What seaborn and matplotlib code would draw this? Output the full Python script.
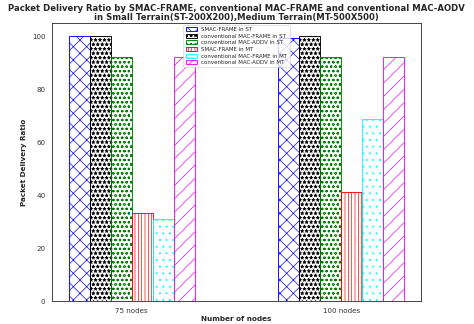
import matplotlib
matplotlib.use("Agg")
import matplotlib.pyplot as plt
import seaborn as sns
import pandas as pd

categories = ["75 nodes", "100 nodes"]
series_names = [
    "SMAC-FRAME in ST",
    "conventional MAC-FRAME in ST",
    "conventional MAC-AODV in ST",
    "SMAC-FRAME in MT",
    "conventional MAC-FRAME in MT",
    "conventional MAC-AODV in MT",
]
smac_frame_st = [100.0, 99.4]
conv_mac_frame_st = [100.0, 100.0]
conv_mac_aodv_st = [92.3, 92.3]
smac_frame_mt = [33.4, 41.1]
conv_mac_frame_mt = [30.9, 68.7]
conv_mac_aodv_mt = [92.3, 92.3]
yticks = [0, 20, 40, 60, 80, 100]

values = [smac_frame_st, conv_mac_frame_st, conv_mac_aodv_st,
          smac_frame_mt, conv_mac_frame_mt, conv_mac_aodv_mt]
colors = ["blue", "black", "green", "red", "cyan", "magenta"]
hatches = ["xx", "***", "ooo", "||||", "..", "//"]

rows = []
for name, vals in zip(series_names, values):
    for cat, v in zip(categories, vals):
        rows.append({"nodes": cat, "series": name, "pdr": v})
df = pd.DataFrame(rows)

sns.set_style("white")
plt.rcParams["hatch.linewidth"] = 0.6

fig = plt.figure(figsize=(474 / 80, 324 / 80), dpi=80)
ax = fig.add_axes([52 / 474, 1 - 301 / 324, (421 - 52) / 474, (301 - 23) / 324])

sns.barplot(data=df, x="nodes", y="pdr", hue="series", order=categories,
            hue_order=series_names, palette=colors, width=0.6,
            errorbar=None, legend=False, ax=ax)

handles = []
for cont, col, h in zip(ax.containers, colors, hatches):
    for p in cont.patches:
        p.set_facecolor("none")
        p.set_edgecolor(col)
        p.set_hatch(h)
        p.set_linewidth(0.8)
    handles.append(cont.patches[0])

ax.set_xlim(-0.38, 1.38)
ax.set_ylim(0, 105)
ax.set_yticks(yticks)
ax.tick_params(axis="both", labelsize=6.4, length=2.5, width=0.6, pad=3.5,
               colors="#333333")
for s in ax.spines.values():
    s.set_visible(True)
    s.set_color("#333333")
    s.set_linewidth(0.8)

ax.set_xlabel("Number of nodes", fontsize=6.5, fontweight="bold", labelpad=2.5)
ax.set_ylabel("Packet Delivery Ratio", fontsize=6.5, fontweight="bold", labelpad=4)
ax.set_title("Packet Delivery Ratio by SMAC-FRAME, conventional MAC-FRAME and conventional MAC-AODV\n"
             "in Small Terrain(ST-200X200),Medium Terrain(MT-500X500)",
             fontsize=7.6, fontweight="bold", pad=2.5, linespacing=1.0)

leg = ax.legend(handles=handles, labels=series_names, loc="upper center",
                fontsize=5.0, frameon=True, borderaxespad=0.3, labelspacing=0.3,
                handlelength=2.0, handleheight=0.7)
leg.get_frame().set_edgecolor("#cccccc")
leg.get_frame().set_linewidth(0.6)

fig.savefig("out.png", dpi=80)
